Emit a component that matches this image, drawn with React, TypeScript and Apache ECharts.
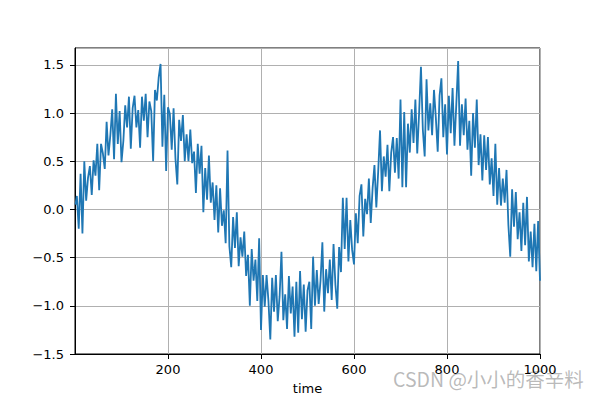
import React, { useEffect, useRef } from "react";
import * as echarts from "echarts";

// time axis: first sample at t=1, then every 4 time units up to 1000
const values: number[] = [
  0.05,
  // 4..100
  0.14, -0.2, 0.37, -0.25, 0.5, 0.09, 0.33, 0.45, 0.15, 0.51, 0.35, 0.68, 0.2, 0.68, 0.58, 0.42, 0.91, 0.56, 0.77, 1.04, 0.52, 1.2, 0.68, 1.02, 0.49,
  // 104..200
  0.71, 1.08, 0.85, 1.17, 0.63, 1.05, 1.18, 0.85, 1.03, 0.64, 1.17, 0.92, 1.2, 0.75, 1.12, 1.02, 0.5, 1.24, 1.13, 1.37, 1.51, 0.65, 1.19, 0.4, 1.06,
  // 204..300
  0.99, 0.62, 1.05, 0.53, 0.26, 0.93, 0.71, 0.98, 0.5, 0.78, 0.5, 0.83, 0.48, 0.6, 0.17, 0.68, 0.37, 0.66, -0.03, 0.43, 0.1, 0.56, 0.07, 0.28, -0.11,
  // 304..400
  0.25, -0.24, 0.22, -0.17, -0.01, -0.35, 0.61, -0.38, -0.6, -0.08, -0.4, -0.03, -0.59, -0.29, -0.49, -0.23, -0.69, -0.47, -1.0, -0.41, -0.74, -0.52, -0.95, -0.3, -1.25,
  // 404..500
  -0.68, -1.01, -0.68, -0.95, -1.35, -0.71, -1.06, -0.68, -1.16, -0.9, -0.44, -1.15, -0.88, -1.24, -0.69, -1.08, -0.8, -1.32, -0.75, -1.28, -0.64, -1.14, -0.78, -1.27, -0.84,
  // 504..600
  -0.75, -1.24, -0.49, -1.0, -0.63, -0.98, -0.74, -0.34, -1.06, -0.62, -0.87, -0.52, -0.94, -0.36, -0.78, -1.03, -0.39, -0.65, 0.12, -0.41, 0.12, -0.54, -0.11, -0.42, -0.57,
  // 604..700
  -0.04, -0.35, 0.14, 0.26, -0.28, 0.11, -0.05, 0.32, -0.14, 0.22, 0.46, 0.02, 0.39, 0.82, 0.19, 0.55, 0.34, 0.67, 0.19, 0.59, 0.75, 0.38, 0.74, 0.32, 1.14,
  // 704..800
  0.23, 1.01, 0.23, 0.89, 0.59, 1.04, 0.69, 1.14, 0.58, 1.0, 1.48, 0.83, 0.55, 1.35, 0.82, 1.1, 0.77, 1.24, 0.95, 0.6, 1.18, 1.36, 0.75, 1.09, 0.57,
  // 804..900
  1.18, 0.79, 1.26, 0.66, 1.09, 1.54, 0.66, 1.09, 0.77, 1.15, 0.62, 0.92, 0.35, 1.0, 0.64, 1.14, 0.46, 0.78, 0.3, 0.77, 0.41, 0.75, 0.26, 0.53, 0.14,
  // 904..1000
  0.68, 0.05, 0.43, 0.04, 0.32, 0.07, 0.41, -0.16, -0.49, 0.21, -0.18, 0.18, -0.31, -0.03, -0.43, 0.07, -0.37, 0.13, -0.54, -0.23, -0.6, -0.15, -0.64, -0.12, -0.74,
];

const time: number[] = values.map((_, i) => (i === 0 ? 1 : i * 4));

const xTicks = [200, 400, 600, 800, 1000];
const yTicks = [-1.5, -1.0, -0.5, 0.0, 0.5, 1.0, 1.5];

const xName = "time";
const watermark = "CSDN @小小的香辛料";

export default function App() {
  const ref = useRef<HTMLDivElement>(null);

  useEffect(() => {
    if (!ref.current) return;
    const chart = echarts.init(ref.current, undefined, { renderer: "svg" });
    const font = "DejaVu Sans";
    const data = time.map((t, i) => [t, values[i]]);
    chart.setOption({
      animation: false,
      backgroundColor: "#ffffff",
      grid: {
        left: 75,
        right: 60,
        top: 48,
        bottom: 44,
        show: true,
        borderColor: "#000000",
        borderWidth: 1,
        backgroundColor: "transparent",
      },
      xAxis: {
        type: "value",
        min: 0,
        max: 1000,
        interval: 200,
        name: xName,
        nameLocation: "middle",
        nameGap: 28,
        nameTextStyle: { fontFamily: font, fontSize: 13, color: "#000" },
        axisLine: { show: true, onZero: false, lineStyle: { color: "#000", width: 1 } },
        axisTick: { show: true, inside: false, length: 5, lineStyle: { color: "#000", width: 1 } },
        axisLabel: {
          showMinLabel: false,
          margin: 9,
          fontFamily: font,
          fontSize: 13,
          color: "#000",
          formatter: (v: number) => (xTicks.includes(v) ? String(v) : ""),
        },
        splitLine: { show: true, lineStyle: { color: "#b0b0b0", width: 1 } },
      },
      yAxis: {
        type: "value",
        min: -1.5,
        max: 1.675,
        interval: 0.5,
        axisLine: { show: true, onZero: false, lineStyle: { color: "#000", width: 1 } },
        axisTick: { show: true, inside: false, length: 5, lineStyle: { color: "#000", width: 1 } },
        axisLabel: {
          showMaxLabel: false,
          margin: 11,
          fontFamily: font,
          fontSize: 13,
          color: "#000",
          formatter: (v: number) => {
            const hit = yTicks.find((t) => Math.abs(t - v) < 1e-6);
            if (hit === undefined) return "";
            return hit < 0 ? "\u2212" + Math.abs(hit).toFixed(1) : hit.toFixed(1);
          },
        },
        splitLine: { show: true, lineStyle: { color: "#b0b0b0", width: 1 } },
      },
      series: [
        {
          type: "line",
          data,
          showSymbol: false,
          symbol: "none",
          lineStyle: { color: "#1f77b4", width: 1.8 },
          itemStyle: { color: "#1f77b4" },
        },
      ],
      graphic: [
        {
          type: "text",
          left: 393,
          top: 369,
          silent: true,
          style: {
            text: watermark,
            fontFamily: "Noto Sans CJK SC",
            fontSize: 19.5,
            fill: "rgba(140,140,140,0.6)",
          },
        },
      ],
    });
    return () => chart.dispose();
  }, []);

  return (
    <div
      ref={ref}
      style={{ position: "fixed", left: 0, top: 0, width: 600, height: 400 }}
    />
  );
}
